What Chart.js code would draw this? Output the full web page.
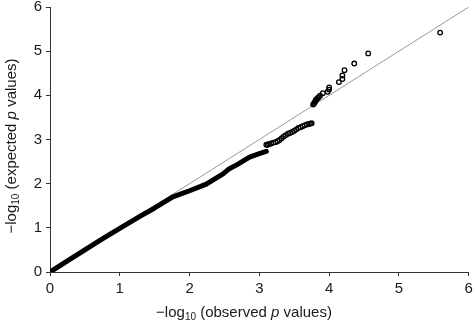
<!DOCTYPE html>
<html>
<head>
<meta charset="utf-8">
<script src="https://cdn.jsdelivr.net/npm/chart.js@4.4.0/dist/chart.umd.min.js"></script>
<style>
  html, body { margin: 0; padding: 0; background: #fff; }
  #wrap { width: 474px; height: 325px; }
</style>
</head>
<body>
<div id="wrap"><canvas id="qqChart"></canvas></div>
<script>
// axis ticks
const xTicks = [0, 1, 2, 3, 4, 5, 6];
const yTicks = [0, 1, 2, 3, 4, 5, 6];

// dense part of the curve (overlapping circles -> thick band)
const bandObs = [0, 0.25, 0.5, 0.75, 1.0, 1.15, 1.3, 1.5, 1.76, 2.0, 2.24, 2.48, 2.57, 2.67, 2.86, 3.0, 3.10];
const bandExp = [0, 0.25, 0.5, 0.75, 0.99, 1.13, 1.27, 1.45, 1.70, 1.84, 1.99, 2.22, 2.34, 2.42, 2.60, 2.68, 2.73];

// separate circles (observed, expected)
const pointObs = [3.10, 3.12, 3.14, 3.17, 3.20, 3.23, 3.26, 3.29, 3.32, 3.35, 3.38, 3.41, 3.44, 3.47, 3.50, 3.53, 3.56, 3.59, 3.62, 3.65, 3.68, 3.71, 3.73, 3.75,
                  3.77, 3.78, 3.79, 3.80, 3.81, 3.82, 3.84, 3.85, 3.87, 3.91, 3.98, 4.00, 4.00, 4.14, 4.19, 4.19, 4.22, 4.36, 4.56, 5.59];
const pointExp = [2.88, 2.88, 2.90, 2.91, 2.93, 2.94, 2.96, 2.99, 3.03, 3.07, 3.10, 3.13, 3.15, 3.17, 3.20, 3.23, 3.26, 3.28, 3.30, 3.32, 3.34, 3.35, 3.36, 3.37,
                  3.79, 3.81, 3.83, 3.86, 3.89, 3.91, 3.94, 3.96, 3.99, 4.05, 4.08, 4.13, 4.18, 4.30, 4.37, 4.45, 4.57, 4.72, 4.95, 5.42];

// reference line y = x
const diagObs = [0, 6];
const diagExp = [0, 6];

const font = "'Liberation Sans', Arial, sans-serif";

// draws "−log10 (... p values)" with subscript and italic p
function drawTitle(ctx, word) {
  const parts = [
    { t: "\u2212log", f: "15px " + font, dy: 0 },
    { t: "10", f: "10px " + font, dy: 4 },
    { t: " (" + word + " ", f: "15px " + font, dy: 0 },
    { t: "p", f: "italic 15px " + font, dy: 0 },
    { t: " values)", f: "15px " + font, dy: 0 }
  ];
  let w = 0;
  parts.forEach(p => { ctx.font = p.f; w += ctx.measureText(p.t).width; });
  let x = -w / 2;
  parts.forEach(p => {
    ctx.font = p.f;
    ctx.fillText(p.t, x, p.dy);
    x += ctx.measureText(p.t).width;
  });
}

const titlePlugin = {
  id: 'titles',
  afterDraw(chart) {
    const ctx = chart.ctx;
    ctx.save();
    ctx.fillStyle = '#1a1a1a';
    ctx.textBaseline = 'middle';
    ctx.textAlign = 'left';
    ctx.translate(244, 313);
    drawTitle(ctx, 'observed');
    ctx.restore();

    ctx.save();
    ctx.fillStyle = '#1a1a1a';
    ctx.textBaseline = 'middle';
    ctx.textAlign = 'left';
    ctx.translate(12, 146);
    ctx.rotate(-Math.PI / 2);
    drawTitle(ctx, 'expected');
    ctx.restore();
  }
};

onload = function () {
  const band = bandObs.map((v, i) => ({ x: v, y: bandExp[i] }));
  const pts = pointObs.map((v, i) => ({ x: v, y: pointExp[i] }));
  const diag = diagObs.map((v, i) => ({ x: v, y: diagExp[i] }));

  new Chart(document.getElementById('qqChart'), {
    type: 'scatter',
    data: {
      datasets: [
        {
          data: diag, showLine: true, pointRadius: 0,
          borderColor: '#9a9a9a', borderWidth: 1, order: 3
        },
        {
          data: band, showLine: true, pointRadius: 0,
          borderColor: '#000', borderWidth: 5,
          borderCapStyle: 'round', borderJoinStyle: 'round', order: 2
        },
        {
          data: pts, pointRadius: 2.3, pointBorderWidth: 1.3,
          pointBorderColor: '#000', pointBackgroundColor: 'rgba(0,0,0,0)', order: 1
        }
      ]
    },
    options: {
      responsive: true,
      maintainAspectRatio: false,
      animation: false,
      layout: { padding: 0 },
      plugins: { legend: { display: false }, tooltip: { enabled: false } },
      scales: {
        x: {
          type: 'linear', min: 0, max: 6,
          afterFit: s => { s.height = 53; s.paddingRight = 5; s.paddingLeft = 0; },
          afterBuildTicks: s => { s.ticks = xTicks.map(v => ({ value: v })); },
          border: { color: '#333', width: 1 },
          grid: { drawOnChartArea: false, drawTicks: true, tickLength: 4, color: '#333' },
          ticks: { color: '#1a1a1a', font: { family: font, size: 15 }, padding: 4, maxRotation: 0 }
        },
        y: {
          type: 'linear', min: 0, max: 6,
          afterFit: s => { s.width = 50; s.paddingTop = 7; s.paddingBottom = 0; },
          afterBuildTicks: s => { s.ticks = yTicks.map(v => ({ value: v })); },
          border: { color: '#333', width: 1 },
          grid: { drawOnChartArea: false, drawTicks: true, tickLength: 4, color: '#333' },
          ticks: { color: '#1a1a1a', font: { family: font, size: 15 }, padding: 4 }
        }
      }
    },
    plugins: [titlePlugin]
  });
};
</script>
</body>
</html>
